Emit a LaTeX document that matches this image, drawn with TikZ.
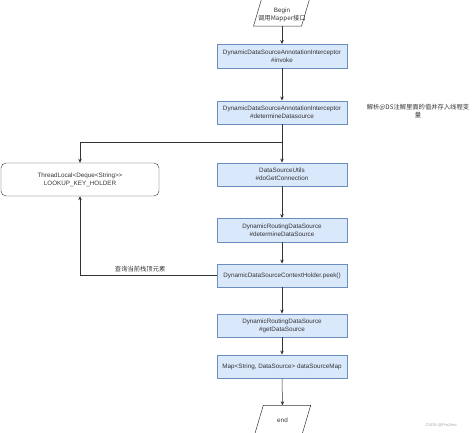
\documentclass[tikz,border=0pt]{standalone}
\usepackage{fontspec}
\setmainfont{Liberation Sans}
\newfontfamily\cjk{Noto Sans CJK SC}
\usepackage{tikz}
\usetikzlibrary{arrows.meta}

\definecolor{procfill}{HTML}{DAE8FC}
\definecolor{procline}{HTML}{6C8EBF}
\definecolor{inkgray}{HTML}{333333}

\tikzset{
  base/.style={font=\fontsize{6.3}{8}\selectfont, text=inkgray, align=center},
  proc/.style={base, draw=procline, fill=procfill, minimum width=130pt, minimum height=23.5pt, inner sep=1pt},
  io/.style={base, minimum width=47pt, minimum height=30pt, inner sep=0pt},
  holder/.style={base, draw=inkgray, rounded corners=5pt, minimum width=158pt, minimum height=33pt},
  wire/.style={draw=black!80, line width=0.5pt}
}

\begin{document}
\begin{tikzpicture}[x=1pt,y=-1pt,>={Stealth[length=4pt,width=3.5pt]}]
  \useasboundingbox (0,0) rectangle (474,433);
  % main column
  \node[io, minimum height=23pt] (begin) at (282,14.5) {Begin\\{\cjk 调用Mapper接口}};
  \draw[wire] ([xshift=4.5pt,yshift=7pt]begin.north west) -- ([xshift=4.5pt,yshift=7pt]begin.north east)
    -- ([xshift=-4.5pt]begin.south east) -- ([xshift=-4.5pt]begin.south west) -- cycle;
  \node[proc] (invoke) at (282,56) {DynamicDataSourceAnnotationInterceptor\\\#invoke};
  \node[proc] (determine) at (282,112.5) {DynamicDataSourceAnnotationInterceptor\\\#determineDatasource};
  \node[proc] (utils) at (282,174.5) {DataSourceUtils\\\#doGetConnection};
  \node[proc] (routing) at (282,230) {DynamicRoutingDataSource\\\#determineDataSource};
  \node[proc] (peek) at (282,275.5) {DynamicDataSourceContextHolder.peek()};
  \node[proc] (getds) at (282,325.5) {DynamicRoutingDataSource\\\#getDataSource};
  \node[proc] (dsmap) at (282,366.5) {Map<String, DataSource> dataSourceMap};
  \node[io] (end) at (282.5,420.5) {end};
  \draw[wire] ([xshift=4.5pt]end.north west) -- ([xshift=4.5pt]end.north east)
    -- ([xshift=-4.5pt]end.south east) -- ([xshift=-4.5pt]end.south west) -- cycle;

  % side nodes
  \node[holder] (holder) at (80,179.5) {ThreadLocal<Deque<String>{}>\\LOOKUP\_KEY\_HOLDER};
  \node[base] (parse) at (418,111) {{\cjk 解析@DS注解里面的值并存入线程变}\\{\cjk 量}};
  \node[base, font=\fontsize{4}{5}\selectfont, text=black!35] (mark) at (441,425) {CSDN @ProZero};

  % connectors
  \draw[wire, ->] (begin.south) -- (invoke.north);
  \draw[wire, ->] (invoke.south) -- (determine.north);
  \draw[wire, ->] (determine.south) -- (utils.north);
  \draw[wire, ->] (determine.south) -- ++(0,17.5) -| (holder.north);
  \draw[wire, ->] (utils.south) -- (routing.north);
  \draw[wire, ->] (routing.south) -- (peek.north);
  \draw[wire, ->] (peek.west) -| (holder.south)
    node[base, pos=0.28, above, inner sep=3pt] {\cjk 查询当前栈顶元素};
  \draw[wire, ->] (peek.south) -- (getds.north);
  \draw[wire, ->] (getds.south) -- (dsmap.north);
  \draw[wire, ->] (dsmap.south) -- (end.north);
\end{tikzpicture}
\end{document}
